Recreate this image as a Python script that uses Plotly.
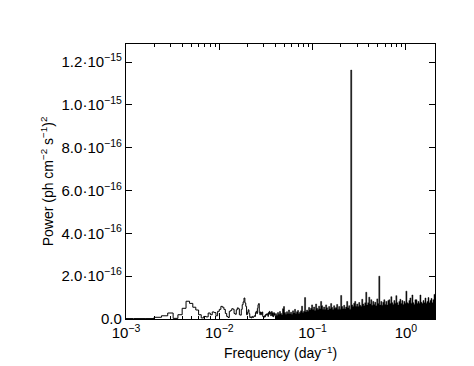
import numpy as np
import plotly.graph_objects as go

# Low-frequency periodogram bins (linear grid, step df), power in units of 1e-17
df_bin = 0.0004
low_power = [0.2, 0.2, 0.2, 0.2, 0.8, 1.5, 2.8, 0.3, 2.0, 5.0, 8.3, 7.3, 5.5, 4.2, 2.0, 0.5, 1.2, 1.0,
             2.8, 2.0, 3.3, 3.0, 1.5, 3.6, 4.5, 5.9, 5.5, 4.5, 2.6, 1.2, 0.7, 3.6, 4.0, 4.8, 4.6, 2.6,
             2.2, 4.3, 5.2, 4.8, 2.0, 1.8, 4.5, 6.7, 8.0, 9.8, 7.5, 5.9, 2.0, 3.2, 4.3, 2.5, 0.7, 1.0,
             0.5, 1.2, 0.7, 1.0, 1.5, 1.2, 3.0, 3.6, 2.5, 5.0, 6.7, 7.2, 3.0, 2.0, 3.3, 3.0, 2.0, 3.3,
             1.2, 1.0, 0.8, 1.5, 1.0, 2.0, 2.3, 1.8, 2.5, 2.0, 1.2, 3.0, 2.2, 3.6, 2.5, 3.0, 1.5, 2.0,
             3.5, 1.5, 2.8, 1.0, 2.2, 3.0, 1.8, 2.5, 1.2]

# High-frequency (dense) part: per-pixel peak power, units of 1e-17
dense_fmin, dense_fmax = 0.04, 2.05
dense_power = [
    # 0.04 - 0.08
    2.5, 1.8, 3.0, 2.2, 3.5, 2.6, 2.0, 4.8, 5.8, 3.0, 2.2, 3.4, 2.6, 4.2, 2.4, 3.2,
    2.2, 3.8, 2.8, 4.5, 2.6, 3.4, 4.0, 2.6, 3.2, 3.8, 6.0, 3.0, 3.6, 10.0, 3.4, 4.2,
    # 0.08 - 0.25
    3.6, 5.4, 4.2, 5.0, 6.6, 4.4, 5.6, 4.0, 7.0, 5.0, 4.4, 6.0, 4.8, 8.2, 6.2, 4.6,
    5.6, 4.4, 6.6, 5.2, 4.2, 5.8, 4.8, 7.2, 5.4, 4.4, 6.2, 5.0, 5.4, 6.8, 4.6, 5.8,
    4.6, 11.0, 5.8, 4.8, 6.4, 4.8, 5.6, 8.2, 5.2, 6.2, 4.6,
    # main peak ~0.257
    116.3,
    # 0.26 - 2.05
    6.6, 5.8, 7.4, 8.2, 6.0, 7.0, 5.8, 7.7, 6.4, 6.0, 9.2, 7.0, 6.2, 7.6, 12.5, 6.6,
    7.6, 10.2, 7.0, 9.0, 6.4, 8.2, 6.8, 7.8, 6.2, 9.4, 7.2, 20.0, 6.6, 8.2, 6.4, 7.8,
    9.0, 6.8, 8.2, 6.6, 8.6, 9.0, 7.2, 10.4, 7.6, 6.8, 8.6, 7.4, 10.9, 7.6, 6.6, 8.2,
    9.2, 7.2, 8.6, 6.8, 8.2, 7.4, 13.0, 7.6, 7.2, 8.6, 9.8, 7.4, 11.2, 7.6, 6.8, 9.0,
    9.0, 7.2, 8.2, 7.4, 11.2, 7.8, 7.2, 8.6, 7.6, 9.8, 7.4, 8.2, 10.0, 7.6, 8.6, 9.6,
    7.6, 9.0, 11.5, 8.2,
]

unit = 1e-17
low_f = df_bin * np.arange(1, len(low_power) + 1)
dense_f = np.geomspace(dense_fmin, dense_fmax, len(dense_power))

y_tickvals = [0, 2e-16, 4e-16, 6e-16, 8e-16, 1.0e-15, 1.2e-15]
y_ticktext = ["0.0", "2.0·10<sup>−16</sup>", "4.0·10<sup>−16</sup>", "6.0·10<sup>−16</sup>",
              "8.0·10<sup>−16</sup>", "1.0·10<sup>−15</sup>", "1.2·10<sup>−15</sup>"]
x_tickvals = [1e-3, 1e-2, 1e-1, 1e0]
x_ticktext = ["10<sup>−3</sup>", "10<sup>−2</sup>", "10<sup>−1</sup>", "10<sup>0</sup>"]

minor_vals = [m * 10.0 ** e for e in range(-3, 1) for m in range(2, 10)]

fig = go.Figure()
fig.add_trace(go.Scatter(x=low_f, y=np.array(low_power) * unit, mode="lines",
                         line=dict(color="black", width=1, shape="hv"), showlegend=False))
fig.add_trace(go.Scatter(x=dense_f, y=np.array(dense_power) * unit, mode="lines",
                         line=dict(color="black", width=0.5, shape="hv"), fill="tozeroy",
                         fillcolor="black", showlegend=False))

font = dict(family="Liberation Sans, Arial, sans-serif", size=15, color="black")
fig.update_layout(
    width=474, height=366,
    margin=dict(l=118, r=47, t=36, b=55),
    paper_bgcolor="white", plot_bgcolor="white",
    font=font,
    xaxis=dict(type="log", range=[-3, np.log10(2.05)], tickvals=x_tickvals, ticktext=x_ticktext,
               ticks="inside", ticklen=6, tickwidth=1, tickcolor="black",
               showline=True, linecolor="black", linewidth=1.2, mirror="allticks",
               showgrid=False, zeroline=False, tickfont=dict(size=15),
               minor=dict(tickvals=minor_vals, ticks="inside", ticklen=3, tickcolor="black", showgrid=False),
               title=dict(text="Frequency (day<sup>−1</sup>)", standoff=8, font=dict(size=14))),
    yaxis=dict(range=[0, 1.285e-15], tickvals=y_tickvals, ticktext=y_ticktext,
               ticks="inside", ticklen=6, tickwidth=1, tickcolor="black",
               showline=True, linecolor="black", linewidth=1.2, mirror="allticks",
               showgrid=False, zeroline=False, tickfont=dict(size=15),
               title=dict(text="Power (ph cm<sup>−2</sup> s<sup>−1</sup>)<sup>2</sup>", standoff=4,
                          font=dict(size=14))),
)
fig.write_html("out.html")
